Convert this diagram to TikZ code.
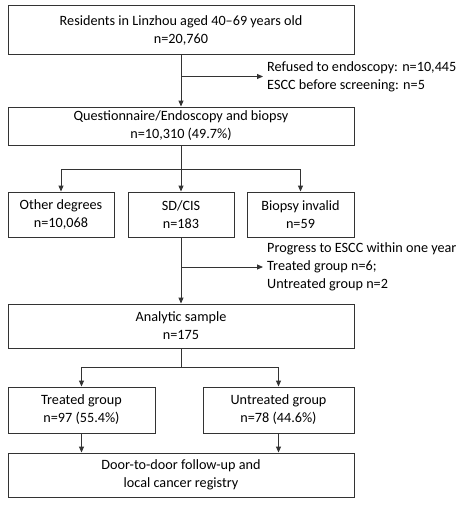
\documentclass[tikz,border=0pt]{standalone}
\usepackage{fontspec}
\setmainfont{Carlito}
\usepackage{tikz}
\usetikzlibrary{positioning,calc,arrows.meta}

\begin{document}
\begin{tikzpicture}[x=1pt,y=-1pt,
    box/.style={draw=black!80,line width=0.9pt,rectangle,align=center,inner sep=0pt},
    arr/.style={draw=black!80,line width=0.9pt,-{Triangle[length=6pt,width=5pt]}},
    ln/.style={draw=black!80,line width=0.9pt},
    note/.style={align=left,anchor=west,inner sep=4pt}]
    \fontsize{14.2}{18}\selectfont
    \useasboundingbox (0,0) rectangle (474,511);

    % Screening population
    \node[box,minimum width=346pt,minimum height=49pt] (resid) at (181,30) {Residents in Linzhou aged 40--69 years old\\n=20,760};
    \node[note] (refused) at (263,76.5) {Refused to endoscopy: n=10,445\\ESCC before screening: n=5};
    \node[box,minimum width=346pt,minimum height=38pt] (quest) at (181,126) {Questionnaire/Endoscopy and biopsy\\n=10,310 (49.7\%)};

    % Pathology results
    \node[box,minimum width=106pt,minimum height=45pt] (other) at (61,214.5) {Other degrees\\n=10,068};
    \node[box,minimum width=106pt,minimum height=45pt] (sdcis) at (181,214.5) {SD/CIS\\n=183};
    \node[box,minimum width=107pt,minimum height=45pt] (invalid) at (300.5,214.5) {Biopsy invalid\\n=59};
    \node[note] (progress) at (263,267) {Progress to ESCC within one year\\Treated group n=6;\\Untreated group n=2};

    % Analytic sample and groups
    \node[box,minimum width=346pt,minimum height=44pt] (sample) at (181,326) {Analytic sample\\n=175};
    \node[box,minimum width=147pt,minimum height=46pt] (treated) at (81.5,410) {Treated group\\n=97 (55.4\%)};
    \node[box,minimum width=151pt,minimum height=46pt] (untreated) at (278.5,410) {Untreated group\\n=78 (44.6\%)};
    \node[box,minimum width=346pt,minimum height=44pt] (follow) at (181,475) {Door-to-door follow-up and\\local cancer registry};

    \coordinate (split1) at (181,169);
    \coordinate (split2) at (181,367);

    % Connectors
    \draw[arr] (resid.south) -- (quest.north);
    \draw[arr] (resid.south |- refused.west) -- (refused.west);
    \draw[arr] (quest.south) -- (sdcis.north);
    \draw[arr] (split1) -| (other.north);
    \draw[arr] (split1) -| (invalid.north);
    \draw[arr] (sdcis.south) -- (sample.north);
    \draw[arr] (sdcis.south |- progress.west) -- (progress.west);
    \draw[ln] (sample.south) -- (split2);
    \draw[arr] (split2) -| (treated.north);
    \draw[arr] (split2) -| (untreated.north);
    \draw[arr] (treated.south) -- (treated.south |- follow.north);
    \draw[arr] (untreated.south) -- (untreated.south |- follow.north);
\end{tikzpicture}
\end{document}
